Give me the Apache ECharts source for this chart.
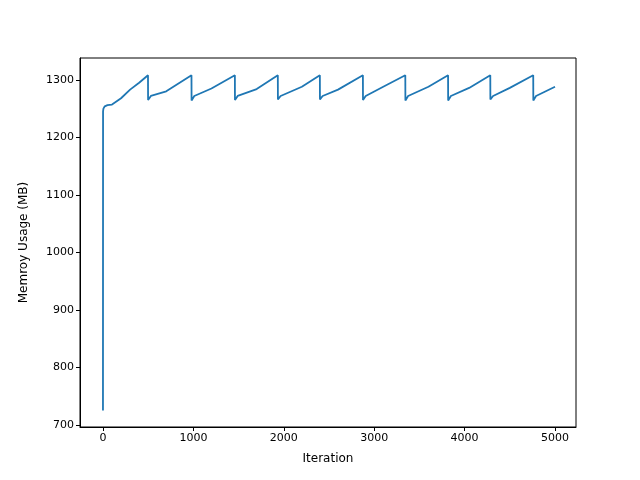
<!DOCTYPE html>
<html><head><meta charset="utf-8">
<script src="https://cdn.jsdelivr.net/npm/echarts@6/dist/echarts.min.js"></script>
<style>html,body{margin:0;padding:0;background:#fff}#c{width:640px;height:480px}</style>
</head><body><div id="c"></div>
<script>
const iterations = [0,1,5,20,50,100,200,300,400,498,499,530,700,979,980,1010,1200,1459,1460,1490,1700,1934,1935,1965,2200,2399,2400,2430,2600,2875,2876,2906,3100,3344,3345,3375,3600,3817,3818,3848,4050,4284,4285,4315,4500,4759,4760,4790,5000];
const memory =   [725,1245,1250,1254,1256,1257,1268,1283,1295,1308,1265,1272,1280,1308,1264,1272,1285,1308,1265,1272,1284,1308,1266,1272,1288,1308,1266,1272,1283,1308,1265,1272,1288,1308,1264,1272,1288,1308,1264,1272,1286,1308,1266,1272,1286,1308,1264,1272,1288];
const xTicks = [0,1000,2000,3000,4000,5000];
const yTicks = [700,800,900,1000,1100,1200,1300];
const data = iterations.map((x,i)=>[x,memory[i]]);
const font = 'DejaVu Sans';
const chart = echarts.init(document.getElementById('c'));
chart.setOption({
  animation:false,
  grid:{left:80,right:64,top:58,bottom:53,show:true,borderColor:'#000',borderWidth:1,backgroundColor:'transparent'},
  xAxis:{type:'value',min:-254,max:5232,interval:1000,name:'Iteration',nameLocation:'middle',nameGap:26,
    nameTextStyle:{fontFamily:font,fontSize:12,color:'#000'},
    axisLine:{onZero:false,lineStyle:{color:'#000'}},axisTick:{inside:false,length:4,lineStyle:{color:'#000'},customValues:xTicks},
    axisLabel:{fontFamily:font,fontSize:11,color:'#000',customValues:xTicks,margin:6,formatter:v=>String(v)},splitLine:{show:false}},
  yAxis:{type:'value',min:696.5,max:1338,name:'Memroy Usage (MB)',nameLocation:'middle',nameGap:50,
    nameTextStyle:{fontFamily:font,fontSize:12,color:'#000'},
    axisLine:{show:true,onZero:false,lineStyle:{color:'#000'}},axisTick:{show:true,length:4,lineStyle:{color:'#000'},customValues:yTicks},
    axisLabel:{fontFamily:font,fontSize:11,color:'#000',customValues:yTicks,margin:6,formatter:v=>String(v)},splitLine:{show:false}},
  series:[{type:'line',data:data,showSymbol:false,lineStyle:{color:'#1f77b4',width:1.8},itemStyle:{color:'#1f77b4'}}]
});
</script></body></html>
